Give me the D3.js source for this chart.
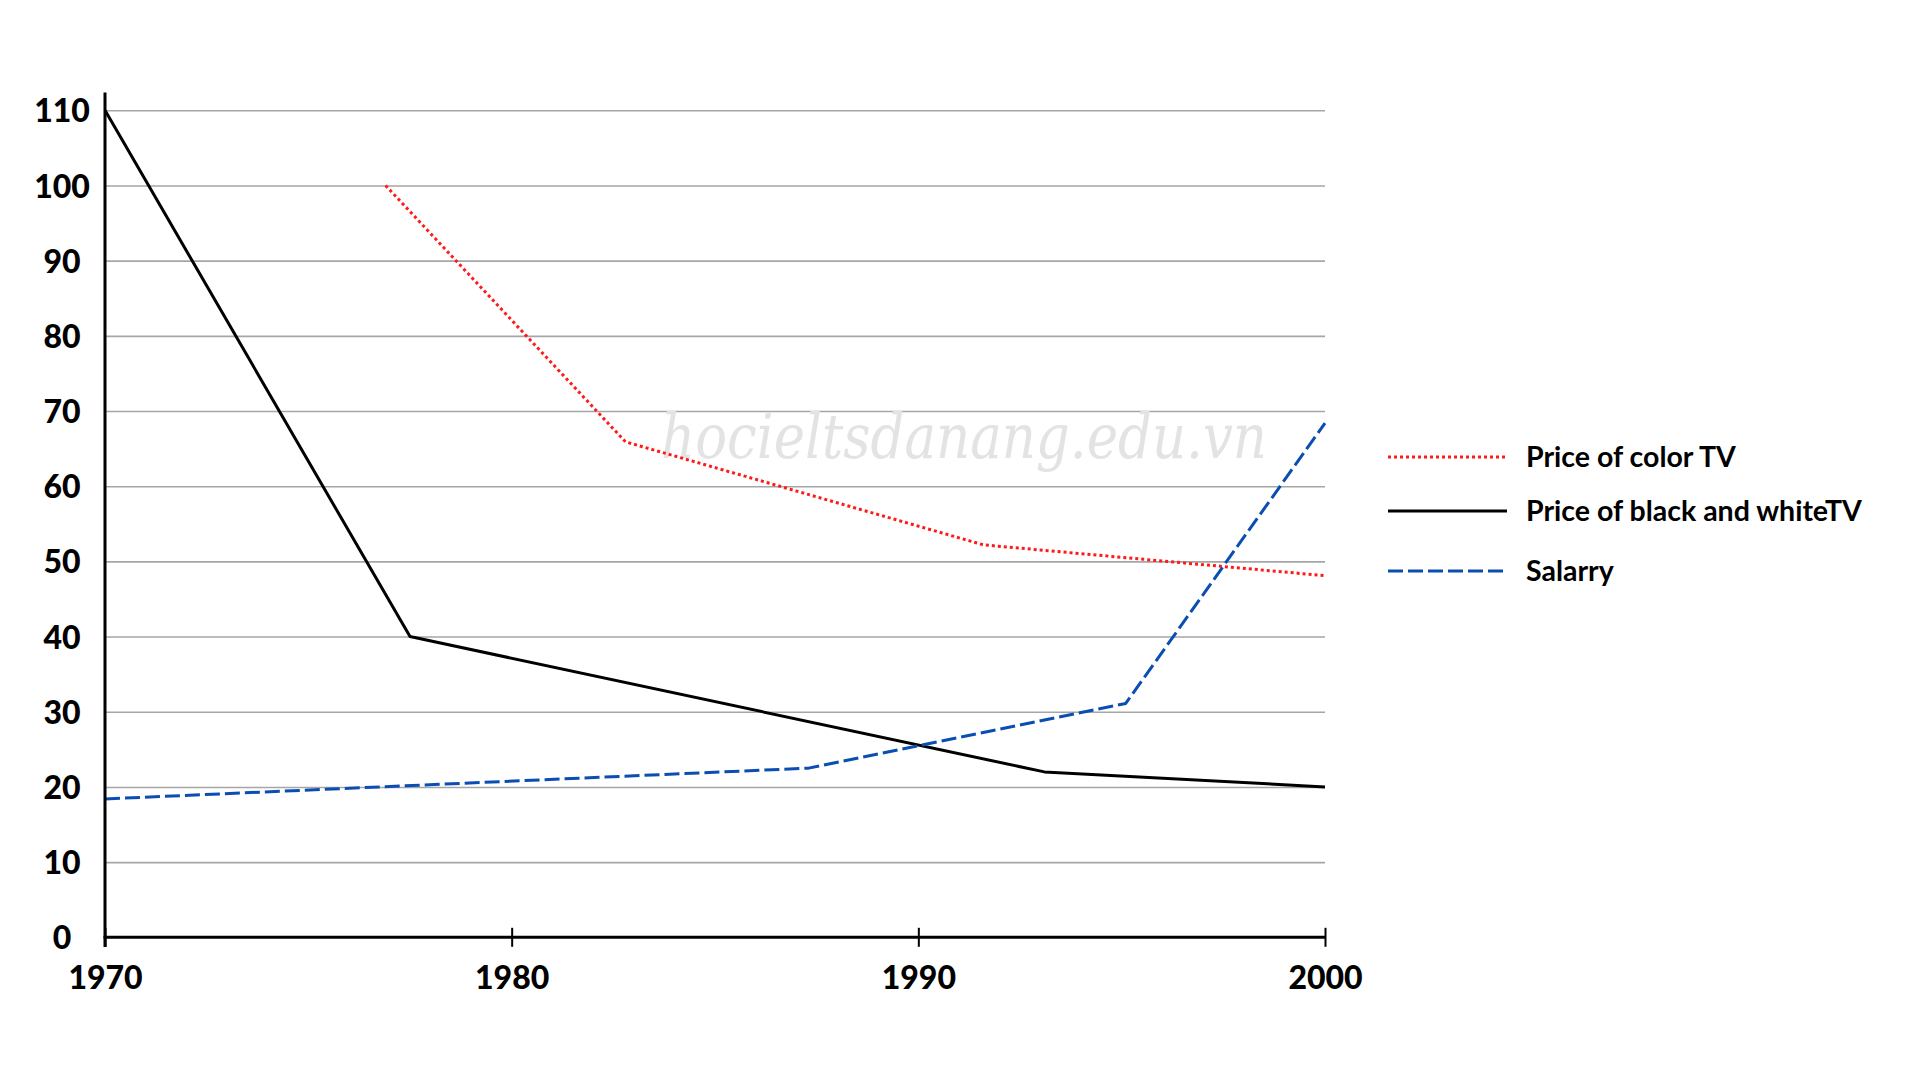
<!DOCTYPE html>
<html>
<head>
<meta charset="utf-8">
<script src="https://cdn.jsdelivr.net/npm/d3@7"></script>
<style>
  html, body { margin: 0; padding: 0; background: #ffffff; }
  svg { display: block; }
</style>
</head>
<body>
<script>
// ---- data ----
const yTicks = [0, 10, 20, 30, 40, 50, 60, 70, 80, 90, 100, 110];
const xTicks = [1970, 1980, 1990, 2000];

const colorTvYears  = [1976.9, 1982.8, 1991.6, 2000];
const colorTvValues = [100, 65.9, 52.2, 48.1];

const bwTvYears  = [1970, 1977.5, 1993.1, 2000];
const bwTvValues = [110, 40, 22, 20];

const salaryYears  = [1970, 1987.3, 1995.1, 2000];
const salaryValues = [18.4, 22.5, 31.1, 68.4];

const seriesNames = ["Price of color TV", "Price of black and whiteTV", "Salarry"];
const watermarkText = "hocieltsdanang.edu.vn";

// ---- layout ----
const W = 1920, H = 1080;
const x = d3.scaleLinear().domain([1970, 2000]).range([105, 1325]);
const y = d3.scaleLinear().domain([0, 110]).range([937.3, 110.3]);

const styles = [
  { color: "#ff1a1a", dash: "3,3", width: 3 },
  { color: "#000000", dash: null, width: 3 },
  { color: "#0a4db3", dash: "15,5", width: 3 }
];

const svg = d3.select("body").append("svg")
  .attr("width", W).attr("height", H)
  .attr("viewBox", `0 0 ${W} ${H}`);

svg.append("rect").attr("width", W).attr("height", H).attr("fill", "#fff");

// gridlines
const grid = svg.append("g")
  .attr("transform", `translate(${x(1970)},0)`)
  .call(d3.axisLeft(y).tickValues(yTicks.filter(d => d > 0)).tickSize(-(x(2000) - x(1970))).tickFormat(""));
grid.select(".domain").remove();
grid.selectAll(".tick line").attr("stroke", "#a6a6a6").attr("stroke-width", 1.6);

// watermark
svg.append("text")
  .attr("x", 661).attr("y", 458)
  .attr("textLength", 606)
  .attr("lengthAdjust", "spacingAndGlyphs")
  .attr("font-family", "DejaVu Serif")
  .attr("font-style", "italic")
  .attr("font-size", 62)
  .attr("fill", "#e3e3e3")
  .text(watermarkText);

// lines
const lineGen = d3.line().x(d => x(d[0])).y(d => y(d[1]));
const seriesData = [
  d3.zip(colorTvYears, colorTvValues),
  d3.zip(bwTvYears, bwTvValues),
  d3.zip(salaryYears, salaryValues)
];
seriesData.forEach((data, i) => {
  const s = styles[i];
  const p = svg.append("path")
    .datum(data)
    .attr("d", lineGen)
    .attr("fill", "none")
    .attr("stroke", s.color)
    .attr("stroke-width", s.width)
    .attr("stroke-linejoin", "round");
  if (s.dash) p.attr("stroke-dasharray", s.dash);
});

// y axis
const yAxis = svg.append("g")
  .attr("transform", `translate(${x(1970)},0)`)
  .call(d3.axisLeft(y).tickValues(yTicks).tickSize(0).tickFormat(d3.format("d")));
yAxis.select(".domain").remove();
yAxis.selectAll(".tick text")
  .attr("x", -43)
  .attr("dy", "0.36em")
  .attr("text-anchor", "middle")
  .attr("font-family", "Lato")
  .attr("font-weight", 900)
  .attr("font-size", 32)
  .attr("fill", "#000");
svg.append("line")
  .attr("x1", x(1970)).attr("x2", x(1970))
  .attr("y1", 92.5).attr("y2", 947)
  .attr("stroke", "#000").attr("stroke-width", 3);

// x axis
const xAxis = svg.append("g")
  .attr("transform", `translate(0,${y(0)})`)
  .call(d3.axisBottom(x).tickValues(xTicks).tickSize(0).tickFormat(d3.format("d")));
xAxis.select(".domain").remove();
xAxis.selectAll(".tick line")
  .attr("y1", -9.5).attr("y2", 9.5)
  .attr("stroke", "#000").attr("stroke-width", 2);
xAxis.selectAll(".tick text")
  .attr("y", 40.5)
  .attr("dy", "0.36em")
  .attr("font-family", "Lato")
  .attr("font-weight", 900)
  .attr("font-size", 32)
  .attr("fill", "#000");
svg.append("line")
  .attr("x1", x(1970) - 1.5).attr("x2", x(2000))
  .attr("y1", y(0)).attr("y2", y(0))
  .attr("stroke", "#000").attr("stroke-width", 3);

// legend
const legendRows = [457, 511, 571];
const legend = svg.append("g");
seriesNames.forEach((name, i) => {
  const s = styles[i];
  const ln = legend.append("line")
    .attr("x1", 1388).attr("x2", 1507)
    .attr("y1", legendRows[i]).attr("y2", legendRows[i])
    .attr("stroke", s.color).attr("stroke-width", s.width);
  if (s.dash) ln.attr("stroke-dasharray", s.dash);
  legend.append("text")
    .attr("x", 1526).attr("y", legendRows[i])
    .attr("dy", "0.36em")
    .attr("font-family", "Lato")
    .attr("font-weight", 700)
    .attr("font-size", 28.5)
    .attr("fill", "#000")
    .text(name);
});
</script>
</body>
</html>
